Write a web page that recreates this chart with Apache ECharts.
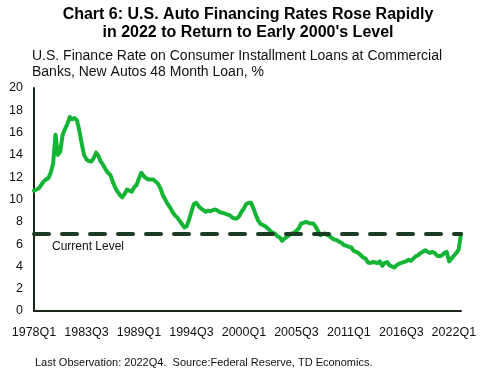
<!DOCTYPE html>
<html><head><meta charset="utf-8">
<script src="https://cdn.jsdelivr.net/npm/echarts@6/dist/echarts.min.js"></script>
<style>html,body{margin:0;padding:0;background:#fff}#c{width:496px;height:370px}</style>
</head><body><div id="c"></div>
<script>
var startYear = 1978, endYear = 2022;
var categories = [];
for (var y = startYear; y <= endYear; y++) { for (var q = 1; q <= 4; q++) categories.push(y + 'Q' + q); }

var rate = [
10.8,10.9,11.0,11.3,11.6,11.8,11.9,12.4,13.2,15.8,
14.0,14.3,15.8,16.3,16.8,17.4,17.2,17.3,17.1,16.2,
15.0,14.0,13.6,13.45,13.4,13.7,14.2,13.9,13.4,13.1,
12.7,12.4,12.2,11.6,11.1,10.7,10.4,10.2,10.5,10.9,
10.8,10.7,11.1,11.3,11.9,12.4,12.1,11.9,11.8,11.8,
11.8,11.6,11.4,11.0,10.4,10.0,9.6,9.3,8.9,8.6,
8.4,8.1,7.8,7.5,7.6,8.2,8.9,9.6,9.7,9.4,
9.2,9.05,8.9,9.0,8.95,9.05,9.1,9.0,8.85,8.8,
8.75,8.65,8.6,8.4,8.3,8.3,8.5,8.9,9.2,9.6,
9.7,9.7,9.2,8.6,8.1,7.8,7.7,7.6,7.4,7.2,
7.0,6.95,6.7,6.6,6.3,6.5,6.65,6.8,6.95,7.0,
7.2,7.4,7.85,7.9,8.0,7.9,7.85,7.85,7.6,7.2,
6.8,6.9,6.95,6.8,6.7,6.5,6.4,6.35,6.2,6.1,
5.9,5.85,5.75,5.7,5.4,5.3,5.2,5.0,4.8,4.7,
4.35,4.3,4.4,4.35,4.3,4.45,4.05,4.3,4.4,4.1,
4.0,3.9,4.1,4.25,4.3,4.4,4.45,4.6,4.5,4.7,
4.9,5.0,5.2,5.3,5.45,5.3,5.2,5.3,5.2,4.95,
4.9,5.0,5.2,5.3,4.45,4.7,4.95,5.2,5.5,6.93
];
var currentLevel = [6.93];
var yTicks = [0,2,4,6,8,10,12,14,16,18,20];

var chart = echarts.init(document.getElementById('c'), null, {renderer:'canvas'});
var FONT = 'Liberation Sans, Arial, sans-serif';
chart.setOption({
  animation: false,
  backgroundColor: '#fff',
  title: [{
    text: 'Chart 6: U.S. Auto Financing Rates Rose Rapidly\nin 2022 to Return to Early 2000\'s Level',
    left: 243, top: 1, textAlign: 'center',
    textStyle: {fontFamily: FONT, fontSize: 16, fontWeight: 'bold', color: '#000', lineHeight: 18}
  }, {
    text: 'U.S. Finance Rate on Consumer Installment Loans at Commercial\nBanks, New Autos 48 Month Loan, %',
    left: 27, top: 43,
    textStyle: {fontFamily: FONT, fontSize: 14, fontWeight: 'normal', color: '#111', lineHeight: 16}
  }, {
    text: 'Last Observation: 2022Q4.  Source:Federal Reserve, TD Economics.',
    left: 30, top: 352,
    textStyle: {fontFamily: FONT, fontSize: 11, fontWeight: 'normal', color: '#111'}
  }],
  grid: {left: 34, right: 35, top: 88, bottom: 59, containLabel: false},
  xAxis: {
    type: 'category', data: categories, boundaryGap: false,
    axisLine: {show: true, lineStyle: {color: '#1a261a', width: 2}},
    axisTick: {show: false},
    axisLabel: {interval: 21, color: '#111', fontFamily: FONT, fontSize: 12.5, margin: 15},
    splitLine: {show: false}
  },
  yAxis: {
    type: 'value', min: yTicks[0], max: yTicks[yTicks.length-1], interval: 2,
    axisLine: {show: true, lineStyle: {color: '#1a261a', width: 2}},
    axisTick: {show: false},
    axisLabel: {color: '#111', fontFamily: FONT, fontSize: 12.5, margin: 11},
    splitLine: {show: false}
  },
  series: [{
    type: 'line', data: rate, symbol: 'none', smooth: false,
    lineStyle: {color: '#14b534', width: 4, join: 'round', cap: 'round'},
    z: 3,
    markLine: {
      silent: true, symbol: 'none',
      lineStyle: {color: '#1b3d24', width: 4, type: [15, 13], cap: 'round'},
      label: {show: true, position: 'insideStartBottom', formatter: 'Current Level', color: '#111', fontFamily: FONT, fontSize: 12, distance: [18, 7]},
      data: [{yAxis: currentLevel[0]}]
    }
  }]
});
</script></body></html>
